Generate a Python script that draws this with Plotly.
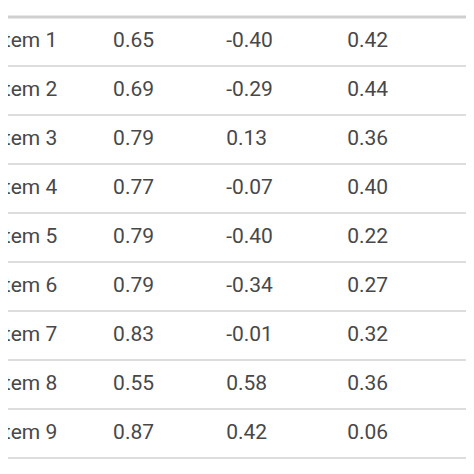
import plotly.graph_objects as go

items = [f"Item {i}" for i in range(1, 10)]
col1 = [0.65, 0.69, 0.79, 0.77, 0.79, 0.79, 0.83, 0.55, 0.87]
col2 = [-0.40, -0.29, 0.13, -0.07, -0.40, -0.34, -0.01, 0.58, 0.42]
col3 = [0.42, 0.44, 0.36, 0.40, 0.22, 0.27, 0.32, 0.36, 0.06]

col_x = [0, 116, 230, 352]
rows = list(range(len(items)))
font = dict(family="Roboto", size=21, color="#484848")

fig = go.Figure()
columns = [items, [f"{v:.2f}" for v in col1], [f"{v:.2f}" for v in col2], [f"{v:.2f}" for v in col3]]
for x, col in zip(col_x, columns):
    fig.add_trace(go.Scatter(x=[x] * len(col), y=rows, text=col, mode="text",
                             textposition="middle right", textfont=font,
                             hoverinfo="skip", showlegend=False))

n = len(items)
fig.add_shape(type="line", xref="paper", x0=0, x1=1, yref="y", y0=-0.5, y1=-0.5,
              line=dict(color="#d0d0d0", width=3))
fig.update_layout(
    width=474, height=474, margin=dict(l=0, r=0, t=0, b=0),
    plot_bgcolor="white", paper_bgcolor="white",
    xaxis=dict(range=[10, 488], visible=False),
    yaxis=dict(range=[n - 0.5 + 24 / 49, -0.5 - 9 / 49], tickvals=[i + 0.5 for i in range(n)],
               showgrid=True, gridcolor="#dddddd", gridwidth=1.5, showticklabels=False,
               zeroline=False, showline=False),
)
fig.write_html("out.html")
